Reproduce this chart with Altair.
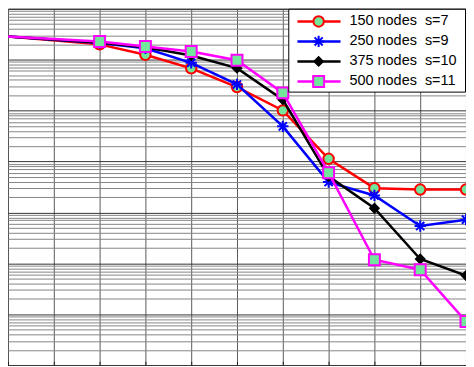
import altair as alt
import pandas as pd

# x positions (grid index units); first point sits on the left edge, no marker drawn there
x_idx = [0, 2, 3, 4, 5, 6, 7, 8, 9, 10]
red_150 = [0.284, 0.200, 0.125, 0.0677, 0.0290, 0.0101, 1.13e-3, 3.00e-4, 2.82e-4, 2.82e-4]
blue_250 = [0.284, 0.2135, 0.168, 0.0869, 0.0327, 4.91e-3, 3.95e-4, 2.16e-4, 5.41e-5, 7.23e-5]
black_375 = [0.284, 0.218, 0.175, 0.121, 0.0683, 0.0164, 5.13e-4, 1.21e-4, 1.22e-5, 5.78e-6]
mag_500 = [0.284, 0.228, 0.181, 0.145, 0.0978, 0.0223, 6.04e-4, 1.18e-5, 7.52e-6, 7.23e-7]

labels = ["150 nodes\u00a0\u00a0s=7", "250 nodes\u00a0\u00a0s=9",
          "375 nodes\u00a0\u00a0s=10", "500 nodes\u00a0\u00a0s=11"]
values = [red_150, blue_250, black_375, mag_500]

x_ticks = list(range(0, 11))
y_ticks = [m * 10.0 ** k for k in range(-7, 0) for m in range(1, 10)] + [1.0]

W, H = 460, 358
GREEN = "#72e69a"
ASTER = "M-1,0L1,0M0,-1L0,1M-0.72,-0.72L0.72,0.72M-0.72,0.72L0.72,-0.72"

styles = [
    dict(color="#ff0000", shape="circle", filled=True, fill=GREEN, size=110, sw=2),
    dict(color="#0000ff", shape=ASTER, filled=False, fill=None, size=130, sw=2),
    dict(color="#000000", shape="diamond", filled=True, fill="#000000", size=85, sw=1.5),
    dict(color="#ff00ff", shape="square", filled=True, fill=GREEN, size=121, sw=2),
]

xs = alt.Scale(domain=[0, 10], nice=False, zero=False)
ys = alt.Scale(type="log", domain=[1e-7, 1], nice=False)

grid_cond = {
    "condition": {
        "test": "abs(log(datum.value)/LN10 - round(log(datum.value)/LN10)) < 0.01",
        "value": "#333333",
    },
    "value": "#858585",
}

x_axis = alt.Axis(values=x_ticks, grid=True, gridColor="#5a5a5a", gridWidth=1,
                  labels=False, ticks=True, tickSize=4, tickColor="#222222",
                  offset=-4, domain=False, title=None)
y_axis = alt.Axis(values=y_ticks, grid=True, gridColor=grid_cond, gridWidth=1,
                  labels=False, ticks=False, domain=False, title=None)

layers = []
for lab, vals, st in zip(labels, values, styles):
    df = pd.DataFrame({"x": x_idx, "y": vals})
    line = alt.Chart(df).mark_line(color=st["color"], strokeWidth=2.5).encode(
        x=alt.X("x:Q", scale=xs, axis=x_axis),
        y=alt.Y("y:Q", scale=ys, axis=y_axis),
    )
    pdf = pd.DataFrame({"x": x_idx[1:], "y": vals[1:]})
    pkw = dict(shape=st["shape"], size=st["size"], stroke=st["color"],
               strokeWidth=st["sw"], opacity=1, filled=st["filled"])
    if st["fill"] is not None:
        pkw["fill"] = st["fill"]
    pts = alt.Chart(pdf).mark_point(**pkw).encode(
        x=alt.X("x:Q", scale=xs, axis=x_axis),
        y=alt.Y("y:Q", scale=ys, axis=y_axis),
    )
    layers += [line, pts]

# legend box
box_df = pd.DataFrame({"k": [0]})
layers.append(
    alt.Chart(box_df).mark_rect(fill="white", stroke="black", strokeWidth=1).encode(
        x=alt.value(282), x2=alt.value(459.5), y=alt.value(0.5), y2=alt.value(83.7)
    )
)
for i, (lab, st) in enumerate(zip(labels, styles)):
    yy = 12.7 + 20.1 * i
    ldf = pd.DataFrame({"label": [lab]})
    layers.append(
        alt.Chart(ldf).mark_rule(color=st["color"], strokeWidth=2.5).encode(
            x=alt.value(290.7), x2=alt.value(334), y=alt.value(yy)
        )
    )
    pkw = dict(shape=st["shape"], size=st["size"], stroke=st["color"],
               strokeWidth=st["sw"], opacity=1, filled=st["filled"])
    if st["fill"] is not None:
        pkw["fill"] = st["fill"]
    layers.append(
        alt.Chart(ldf).mark_point(**pkw).encode(x=alt.value(312), y=alt.value(yy))
    )
    layers.append(
        alt.Chart(ldf).mark_text(align="left", baseline="middle", fontSize=14.5,
                                 font="Liberation Sans", color="black").encode(
            text="label:N", x=alt.value(343), y=alt.value(yy)
        )
    )

chart = alt.layer(*layers).properties(
    width=W, height=H,
    padding={"left": 0, "top": 0, "right": 0, "bottom": 0},
    autosize=alt.AutoSizeParams(type="none"),
).configure_view(stroke="#222222", strokeWidth=1)

chart.save("out.html", embed_options={"renderer": "svg", "actions": False})
